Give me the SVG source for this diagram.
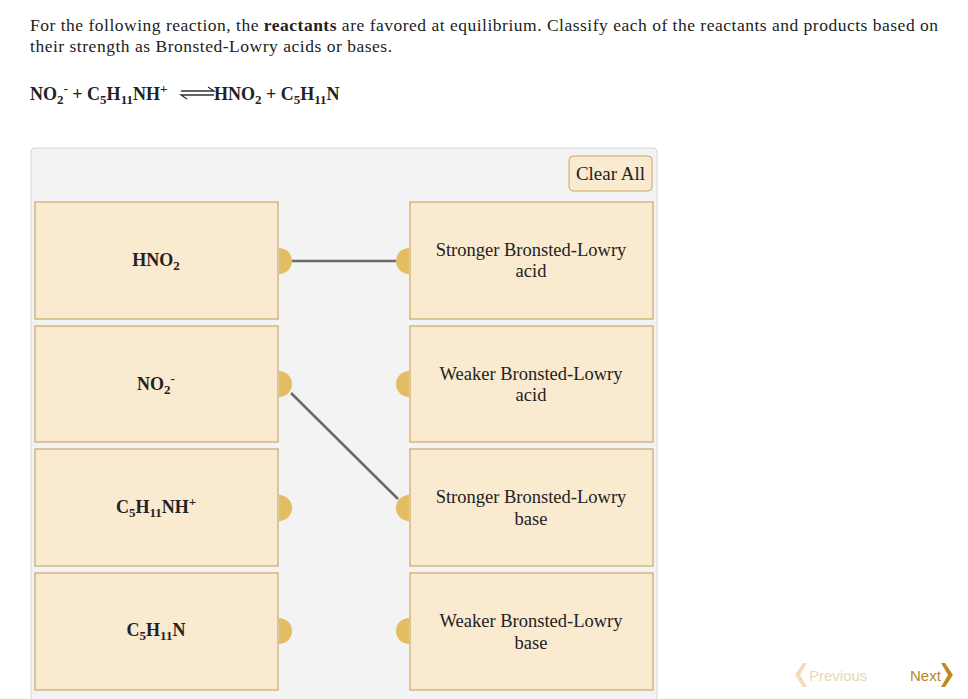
<svg xmlns="http://www.w3.org/2000/svg" width="968" height="699" viewBox="0 0 968 699">
<style>
text{font-family:"Liberation Serif",serif;fill:#222}
.q{font-size:17.5px}
.eq{font-size:18px;font-weight:bold}
.lab{font-size:18px;font-weight:bold;text-anchor:middle}
.rt{font-size:18.5px;text-anchor:middle}
.box{fill:#f9ead0;stroke:#c8a869;stroke-width:1.2}
.h{fill:#e2bd64}
.c{stroke:#6a6a6a;stroke-width:2.5}
</style>
<rect width="968" height="699" fill="#fff"/>
<text class="q" x="30" y="31" textLength="908" lengthAdjust="spacing">For the following reaction, the <tspan font-weight="bold">reactants</tspan> are favored at equilibrium. Classify each of the reactants and products based on</text>
<text class="q" x="30" y="52" textLength="362" lengthAdjust="spacing">their strength as Bronsted-Lowry acids or bases.</text>
<text class="eq" x="30" y="100">NO<tspan font-size="13" dy="4">2</tspan><tspan font-size="13" dy="-11">-</tspan><tspan dy="7"> + C</tspan><tspan font-size="13" dy="4">5</tspan><tspan dy="-4">H</tspan><tspan font-size="13" dy="4">11</tspan><tspan dy="-4">NH</tspan><tspan font-size="13" dy="-7">+</tspan></text>
<g stroke="#333" stroke-width="1.3" fill="none">
<path d="M181 91 H214 L208 87"/><path d="M214 95 H181 L187 99"/>
</g>
<text class="eq" x="214" y="100">HNO<tspan font-size="13" dy="4">2</tspan><tspan dy="-4"> + C</tspan><tspan font-size="13" dy="4">5</tspan><tspan dy="-4">H</tspan><tspan font-size="13" dy="4">11</tspan><tspan dy="-4">N</tspan></text>
<rect x="31" y="148" width="626" height="560" rx="4" fill="#f3f3f3" stroke="#d6d6d6"/>
<g id="clear"><rect x="569" y="156" width="83" height="35" rx="4" fill="#f9ead0" stroke="#c8a869"/><text x="610.5" y="180" class="rt" style="font-size:19px">Clear All</text></g>
<g id="n1"><rect class="box" x="35" y="202" width="243" height="117"/><text class="lab" x="156" y="266">HNO<tspan font-size="13" dy="4">2</tspan></text><path class="h" d="M279 248 a13 13 0 0 1 0 26z"/></g>
<g id="n2"><rect class="box" x="35" y="326" width="243" height="116"/><text class="lab" x="156" y="390">NO<tspan font-size="13" dy="4">2</tspan><tspan font-size="13" dy="-11">-</tspan></text><path class="h" d="M279 371 a13 13 0 0 1 0 26z"/></g>
<g id="n3"><rect class="box" x="35" y="449" width="243" height="117"/><text class="lab" x="156" y="513">C<tspan font-size="13" dy="4">5</tspan><tspan dy="-4">H</tspan><tspan font-size="13" dy="4">11</tspan><tspan dy="-4">NH</tspan><tspan font-size="13" dy="-7">+</tspan></text><path class="h" d="M279 495 a13 13 0 0 1 0 26z"/></g>
<g id="n4"><rect class="box" x="35" y="573" width="243" height="117"/><text class="lab" x="156" y="636">C<tspan font-size="13" dy="4">5</tspan><tspan dy="-4">H</tspan><tspan font-size="13" dy="4">11</tspan><tspan dy="-4">N</tspan></text><path class="h" d="M279 618 a13 13 0 0 1 0 26z"/></g>
<g id="t1"><rect class="box" x="410" y="202" width="243" height="117"/><text class="rt" x="531" y="256">Stronger Bronsted-Lowry</text><text class="rt" x="531" y="277">acid</text><path class="h" d="M409 248 a13 13 0 0 0 0 26z"/></g>
<g id="t2"><rect class="box" x="410" y="326" width="243" height="116"/><text class="rt" x="531" y="380">Weaker Bronsted-Lowry</text><text class="rt" x="531" y="401">acid</text><path class="h" d="M409 371 a13 13 0 0 0 0 26z"/></g>
<g id="t3"><rect class="box" x="410" y="449" width="243" height="117"/><text class="rt" x="531" y="503">Stronger Bronsted-Lowry</text><text class="rt" x="531" y="525">base</text><path class="h" d="M409 495 a13 13 0 0 0 0 26z"/></g>
<g id="t4"><rect class="box" x="410" y="573" width="243" height="117"/><text class="rt" x="531" y="627">Weaker Bronsted-Lowry</text><text class="rt" x="531" y="649">base</text><path class="h" d="M409 618 a13 13 0 0 0 0 26z"/></g>
<g id="connectors"><line class="c" x1="292" y1="261" x2="396" y2="261"/><line class="c" x1="291" y1="393" x2="398" y2="499"/></g>
<g id="nav">
<path d="M803 663 l-8 12 l8 12 h4 l-7 -12 l7 -12z" fill="#efdcb4"/>
<text x="809" y="681" style="font-family:'Liberation Sans',sans-serif;font-size:15px;fill:#e8d8b4">Previous</text>
<text x="910" y="681" style="font-family:'Liberation Sans',sans-serif;font-size:15px;fill:#b8861e">Next</text>
<path d="M945 663 l8 12 l-8 12 h-4 l7 -12 l-7 -12z" fill="#c08a1e"/>
</g>
</svg>
